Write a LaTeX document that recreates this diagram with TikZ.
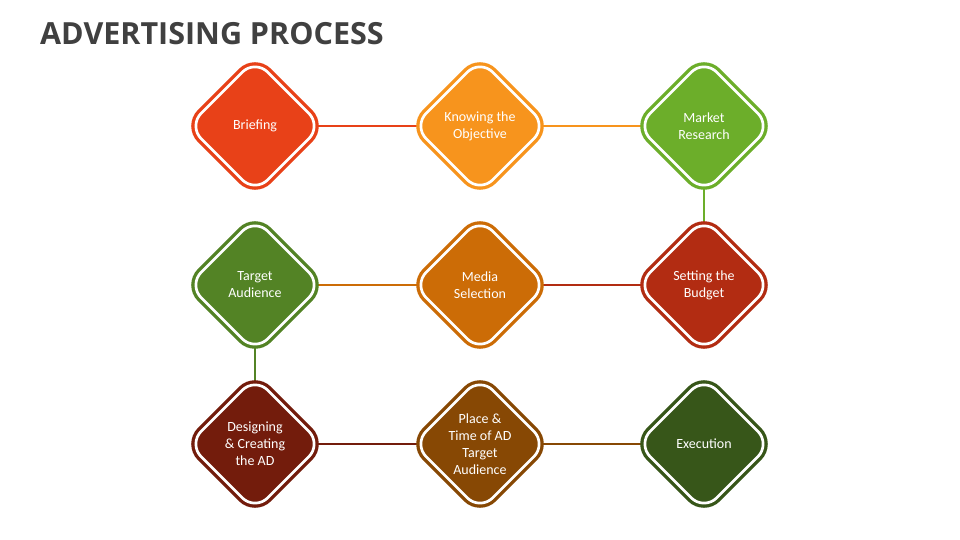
\documentclass[tikz,border=0pt]{standalone}
\usepackage{fontspec}
\setmainfont{Carlito}
\newfontfamily\titlefont{Open Sans}
\usetikzlibrary{shapes.geometric,backgrounds}
\definecolor{cBrief}{RGB}{232,65,24}
\definecolor{cKnow}{RGB}{247,148,29}
\definecolor{cMarket}{RGB}{108,174,42}
\definecolor{cBudget}{RGB}{178,44,18}
\definecolor{cMedia}{RGB}{204,108,6}
\definecolor{cTarget}{RGB}{83,131,37}
\definecolor{cDesign}{RGB}{115,28,12}
\definecolor{cPlace}{RGB}{135,72,4}
\definecolor{cExec}{RGB}{55,86,25}
\definecolor{titlegray}{RGB}{64,64,64}
\begin{document}
\begin{tikzpicture}[x=1pt,y=-1pt,
  dia/.style={diamond, aspect=1, minimum width=134.5pt, minimum height=134.5pt,
    inner sep=0pt, rounded corners=18pt, line width=3.3pt, draw=#1, fill=#1,
    double=white, double distance=2.7pt, text=white, align=center,
    font=\fontsize{14}{17}\selectfont},
  link/.style={line width=2pt, draw=#1}]
\useasboundingbox (0,0) rectangle (960,540);
\node[anchor=base west, inner sep=0pt, text=titlegray,
  font=\titlefont\bfseries\fontsize{30.5}{36}\selectfont] (title) at (40,45) {ADVERTISING PROCESS};

\node[dia=cBrief]  (brief)  at (255,126) {Briefing};
\node[dia=cKnow]   (know)   at (480,126) {Knowing the\\Objective};
\node[dia=cMarket] (market) at (704,126) {Market\\Research};
\node[dia=cTarget] (target) at (255,285) {Target\\Audience};
\node[dia=cMedia]  (media)  at (480,285) {Media\\Selection};
\node[dia=cBudget] (budget) at (704,285) {Setting the\\Budget};
\node[dia=cDesign] (design) at (255,444) {Designing\\\& Creating\\the AD};
\node[dia=cPlace]  (place)  at (480,444) {Place \&\\Time of AD\\Target\\Audience};
\node[dia=cExec]   (exec)   at (704,444) {Execution};

\begin{scope}[on background layer]
\fill[white] (0,0) rectangle (960,540);
\draw[link=cBrief]  (brief.center) -- (know.center);
\draw[link=cKnow]   (know.center) -- (market.center);
\draw[link=cMarket] (market.center) -- (budget.center);
\draw[link=cBudget] (budget.center) -- (media.center);
\draw[link=cMedia]  (media.center) -- (target.center);
\draw[link=cTarget] (target.center) -- (design.center);
\draw[link=cDesign] (design.center) -- (place.center);
\draw[link=cPlace]  (place.center) -- (exec.center);
\end{scope}
\end{tikzpicture}
\end{document}
